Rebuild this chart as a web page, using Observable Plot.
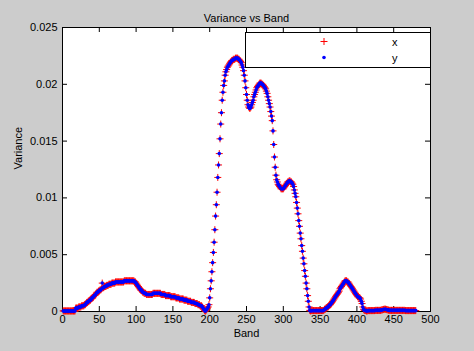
<!DOCTYPE html>
<html><head><meta charset="utf-8">
<script src="https://cdn.jsdelivr.net/npm/d3@7"></script>
<script src="https://cdn.jsdelivr.net/npm/@observablehq/plot@0.6"></script>
<style>
html,body{margin:0;padding:0;background:#cccccc;}
#wrap{position:relative;width:474px;height:351px;font-family:"Liberation Sans",Arial,sans-serif;}
#legend{position:absolute;left:245px;top:32px;width:184px;height:34px;background:#fff;border:1px solid #000;}
#legend svg{display:block;}
</style></head><body><div id="wrap"></div>
<script>
const titleText = "Variance vs Band";
const xLabel = "Band";
const yLabel = "Variance";
const seriesNames = ["x", "y"];
const xTicks = [0, 50, 100, 150, 200, 250, 300, 350, 400, 450, 500];
const yTicks = [0, 0.005, 0.01, 0.015, 0.02, 0.025];
const bandStart = 1;
// variance of series "x", one value per band (bands 1..480)
const varianceX = [
0.00005,0.00005,0.00005,0.00005,0.00005,0.00005,0.00005,0.00005,0.00005,0.00005,
0.00005,0.00005,0.00005,0.00005,0.00005,0.00005,0.00005,0.0003,0.0003,0.0003,
0.0003,0.0004,0.0004,0.0004,0.0004,0.0005,0.0005,0.0005,0.0005,0.0006,
0.0006,0.0007,0.0008,0.0008,0.0009,0.0009,0.0010,0.0010,0.0011,0.0012,
0.0012,0.0013,0.0014,0.0014,0.0015,0.0016,0.0017,0.0017,0.0018,0.0018,
0.0019,0.0019,0.0020,0.0025,0.0021,0.0021,0.0022,0.0022,0.0022,0.0023,
0.0023,0.0023,0.0024,0.0024,0.0024,0.0024,0.0025,0.0025,0.0025,0.0025,
0.0025,0.0026,0.0026,0.0026,0.0026,0.0026,0.0026,0.0026,0.0026,0.0026,
0.0026,0.0026,0.0026,0.0027,0.0027,0.0027,0.0027,0.0027,0.0027,0.0027,
0.0027,0.0027,0.0027,0.0027,0.0027,0.0027,0.0027,0.0026,0.0026,0.0025,
0.0024,0.0023,0.0022,0.0021,0.0020,0.0019,0.0019,0.0018,0.0017,0.0017,
0.0016,0.0016,0.0016,0.0015,0.0015,0.0015,0.0015,0.0015,0.0015,0.0015,
0.0015,0.0015,0.0016,0.0016,0.0016,0.0016,0.0016,0.0016,0.0016,0.0016,
0.0016,0.0016,0.0016,0.0015,0.0015,0.0015,0.0015,0.0015,0.0015,0.0014,
0.0014,0.0014,0.0014,0.0014,0.0014,0.0014,0.0013,0.0013,0.0013,0.0013,
0.0013,0.0013,0.0013,0.0012,0.0012,0.0012,0.0012,0.0012,0.0011,0.0011,
0.0011,0.0011,0.0011,0.0011,0.0010,0.0010,0.0010,0.0010,0.0010,0.0009,
0.0009,0.0009,0.0009,0.0009,0.0008,0.0008,0.0008,0.0008,0.0008,0.0007,
0.0007,0.0007,0.0007,0.0006,0.0006,0.0006,0.0005,0.0005,0.0005,0.0004,
0.0003,0.0002,0.0001,0.00002,0.0001,0.0002,0.0003,0.0004,0.0006,0.0012,
0.0020,0.0027,0.0035,0.0043,0.0052,0.0061,0.0072,0.0084,0.0094,0.0105,
0.0118,0.0129,0.0139,0.0152,0.0165,0.0175,0.0186,0.0193,0.0199,0.0203,
0.0208,0.0211,0.0213,0.0215,0.0216,0.0217,0.0218,0.0219,0.0220,0.0221,
0.0221,0.0222,0.0222,0.0222,0.0223,0.0223,0.0223,0.0223,0.0222,0.0222,
0.0221,0.0220,0.0219,0.0217,0.0215,0.0212,0.0208,0.0203,0.0197,0.0191,
0.0186,0.0182,0.0180,0.0179,0.0179,0.0180,0.0182,0.0184,0.0186,0.0189,
0.0191,0.0193,0.0195,0.0197,0.0198,0.0199,0.0200,0.0201,0.0201,0.0201,
0.0200,0.0200,0.0199,0.0198,0.0197,0.0196,0.0194,0.0192,0.0189,0.0186,
0.0183,0.0180,0.0176,0.0172,0.0168,0.0159,0.0147,0.0136,0.0127,0.0120,
0.0116,0.0114,0.0112,0.0111,0.0110,0.0109,0.0108,0.0108,0.0108,0.0108,
0.0109,0.0110,0.0111,0.0112,0.0113,0.0114,0.0114,0.0115,0.0115,0.0114,
0.0114,0.0113,0.0112,0.0110,0.0107,0.0104,0.0101,0.0096,0.0091,0.0086,
0.0080,0.0075,0.0069,0.0064,0.0058,0.0053,0.0047,0.0042,0.0036,0.0031,
0.0025,0.0020,0.0014,0.0009,0.0004,0.0001,0.00005,0.00008,0.00008,0.00008,
0.00008,0.00008,0.00008,0.00008,0.00008,0.00008,0.00008,0.00008,0.00008,0.00008,
0.00008,0.00008,0.00008,0.00008,0.0001,0.0002,0.0002,0.0003,0.0003,0.0004,
0.0004,0.0005,0.0006,0.0006,0.0007,0.0008,0.0009,0.0010,0.0011,0.0012,
0.0013,0.0014,0.0015,0.0016,0.0017,0.0018,0.0020,0.0021,0.0022,0.0023,
0.0024,0.0025,0.0026,0.0027,0.0027,0.0027,0.0026,0.0026,0.0025,0.0024,
0.0023,0.0022,0.0021,0.0020,0.0019,0.0018,0.0017,0.0016,0.0015,0.0014,
0.0013,0.0013,0.0012,0.0012,0.0011,0.0009,0.0007,0.0004,0.0002,0.0001,
0.0001,0.00008,0.00005,0.00005,0.00008,0.00008,0.00008,0.00008,0.00008,0.00008,
0.00008,0.00008,0.00008,0.00008,0.0001,0.0001,0.0001,0.0001,0.0001,0.0001,
0.0001,0.0001,0.00012,0.00015,0.00015,0.00018,0.0002,0.0002,0.0002,0.00018,
0.00015,0.00015,0.00012,0.0001,0.0001,0.0001,0.0001,0.0001,0.0001,0.0001,
0.0001,0.0001,0.0001,0.0001,0.0001,0.0001,0.0001,0.0001,0.0001,0.0001,
0.0001,0.0001,0.0001,0.0001,0.0001,0.00008,0.00008,0.00008,0.00008,0.00008,
0.00008,0.00008,0.00008,0.00008,0.00008,0.00008,0.00008,0.00008,0.00008,0.00008
];
// series "y" lies on top of series "x" in the picture
const varianceY = varianceX.slice();

const bands = varianceX.map((_, i) => bandStart + i);
const rows = bands.map((b, i) => ({band: b, vx: varianceX[i], vy: varianceY[i]}));

const W = 474, H = 351, mL = 62, mR = 44, mT = 27, mB = 40;
const plotW = W - mL - mR, plotH = H - mT - mB, tk = 5;

const plusSymbol = {
  draw(ctx, size) {
    const r = Math.sqrt(size / Math.PI);
    ctx.moveTo(-r, 0); ctx.lineTo(r, 0);
    ctx.moveTo(0, -r); ctx.lineTo(0, r);
  }
};

const chart = Plot.plot({
  width: W, height: H,
  marginLeft: mL, marginRight: mR, marginTop: mT, marginBottom: mB,
  style: {background: "transparent", fontFamily: "'Liberation Sans', Arial, sans-serif", fontSize: "11px", color: "#000", overflow: "visible"},
  x: {domain: [0, 500]},
  y: {domain: [0, 0.025]},
  marks: [
    Plot.frame({fill: "white", stroke: "#000"}),
    Plot.tickX(xTicks, {x: d => d, insetTop: plotH - tk, stroke: "#000"}),
    Plot.tickX(xTicks, {x: d => d, insetBottom: plotH - tk, stroke: "#000"}),
    Plot.tickY(yTicks, {y: d => d, insetRight: plotW - tk, stroke: "#000"}),
    Plot.tickY(yTicks, {y: d => d, insetLeft: plotW - tk, stroke: "#000"}),
    Plot.axisX(xTicks, {tickSize: 0, tickPadding: 4, label: null, fill: "#000"}),
    Plot.axisY(yTicks, {tickSize: 0, tickPadding: 5, label: null, tickFormat: d => String(d), fill: "#000"}),
    Plot.dot(rows, {x: "band", y: "vx", symbol: plusSymbol, r: 3.5, stroke: "#ff0000", fill: "none", strokeWidth: 1}),
    Plot.dot(rows, {x: "band", y: "vy", r: 1.8, fill: "#0000ff", stroke: null}),
    Plot.text([titleText], {text: d => d, frameAnchor: "top", dy: -13, fill: "#000"}),
    Plot.text([xLabel], {text: d => d, frameAnchor: "bottom", dy: 25, fill: "#000"}),
    Plot.text([yLabel], {text: d => d, frameAnchor: "left", dx: -44, rotate: -90, fill: "#000"})
  ]
});
const wrap = document.getElementById("wrap");
wrap.appendChild(chart);

const legend = document.createElement("div");
legend.id = "legend";
legend.innerHTML = `<svg width="184" height="34" font-family="'Liberation Sans', Arial, sans-serif" font-size="11">
  <path d="M74.5,8.5H81.5M78,5V12" stroke="#ff0000" fill="none"/>
  <circle cx="78" cy="24.5" r="1.8" fill="#0000ff"/>
  <text x="146" y="9" dominant-baseline="central" fill="#000">${seriesNames[0]}</text>
  <text x="146" y="25" dominant-baseline="central" fill="#000">${seriesNames[1]}</text>
</svg>`;
wrap.appendChild(legend);
</script>
</body></html>
